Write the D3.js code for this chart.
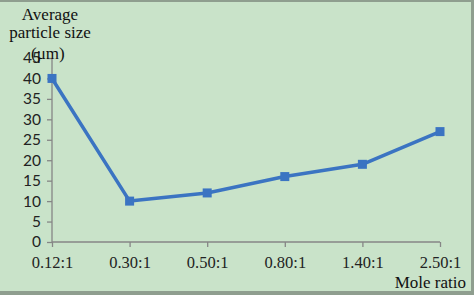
<!DOCTYPE html>
<html>
<head>
<meta charset="utf-8">
<script src="https://cdn.jsdelivr.net/npm/d3@7"></script>
<style>
  html, body { margin: 0; padding: 0; background: #c9e3c9; }
  svg { display: block; }
</style>
</head>
<body>
<div id="chart"></div>
<script>
var ratios = ["0.12:1", "0.30:1", "0.50:1", "0.80:1", "1.40:1", "2.50:1"];
var sizes = [40, 10, 12, 16, 19, 27];
var yTicks = [0, 5, 10, 15, 20, 25, 30, 35, 40, 45];

var width = 474, height = 295;
var svg = d3.select("#chart").append("svg").attr("width", width).attr("height", height);

// background + frame
svg.append("rect").attr("width", width).attr("height", height).attr("fill", "#c9e3c9");
svg.append("rect").attr("x", 0).attr("y", 0).attr("width", width).attr("height", 2).attr("fill", "#8f9e8f");
svg.append("rect").attr("x", width - 3).attr("y", 0).attr("width", 3).attr("height", height).attr("fill", "#8f9e8f");
svg.append("rect").attr("x", 0).attr("y", height - 4).attr("width", width).attr("height", 4).attr("fill", "#8f9e8f");

var x = d3.scalePoint().domain(ratios).range([52, 440]);
var y = d3.scaleLinear().domain([0, 45]).range([242, 58]);

var axisColor = "#868686";

var yAxis = svg.append("g")
  .attr("transform", "translate(52,0)")
  .call(d3.axisLeft(y).tickValues(yTicks).tickSize(5).tickPadding(6));
yAxis.selectAll("path, line").attr("stroke", axisColor).attr("stroke-width", 1.3);
yAxis.selectAll("text")
  .attr("font-family", "Lato, 'Open Sans', sans-serif")
  .attr("font-size", 15.5).attr("fill", "#222");
yAxis.select(".domain").attr("d", "M0," + y(0) + "V" + y(45));

var xAxis = svg.append("g")
  .attr("transform", "translate(0,242)")
  .call(d3.axisBottom(x).tickSize(5).tickPadding(9));
xAxis.selectAll("path, line").attr("stroke", axisColor).attr("stroke-width", 1.3);
xAxis.select(".domain").attr("d", "M52,0H440");
xAxis.selectAll(".tick line").attr("y1", 0).attr("y2", 5);
xAxis.selectAll("text")
  .attr("font-family", "'Liberation Serif', serif")
  .attr("font-size", 16.5).attr("fill", "#222");

var line = d3.line()
  .x(function(d, i) { return x(ratios[i]); })
  .y(function(d) { return y(d); });

svg.append("path")
  .datum(sizes)
  .attr("fill", "none")
  .attr("stroke", "#3b74c2")
  .attr("stroke-width", 3.5)
  .attr("stroke-linejoin", "round")
  .attr("d", line);

svg.selectAll(".pt")
  .data(sizes)
  .enter().append("rect")
  .attr("class", "pt")
  .attr("x", function(d, i) { return x(ratios[i]) - 4.5; })
  .attr("y", function(d) { return y(d) - 4.5; })
  .attr("width", 9).attr("height", 9)
  .attr("fill", "#3b74c2");

var serif = "'Liberation Serif', serif";
svg.append("text").attr("x", 50).attr("y", 20).attr("text-anchor", "middle")
  .attr("font-family", serif).attr("font-size", 17).attr("fill", "#111").text("Average");
svg.append("text").attr("x", 50).attr("y", 38).attr("text-anchor", "middle")
  .attr("font-family", serif).attr("font-size", 17).attr("fill", "#111").text("particle size");
svg.append("text").attr("x", 31).attr("y", 59).attr("text-anchor", "start")
  .attr("font-family", serif).attr("font-size", 17).attr("fill", "#111").text("(μm)");
svg.append("text").attr("x", 466).attr("y", 288).attr("text-anchor", "end")
  .attr("font-family", serif).attr("font-size", 17).attr("fill", "#111").text("Mole ratio");
</script>
</body>
</html>
